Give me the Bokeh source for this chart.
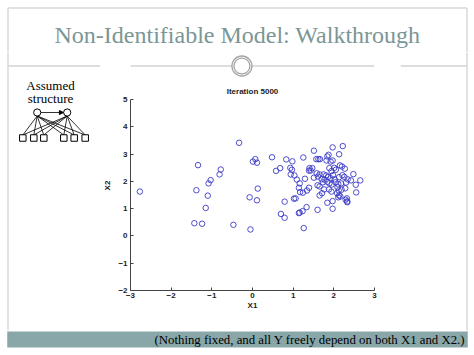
from bokeh.plotting import figure
from bokeh.layouts import column, row
from bokeh.models import Range1d, Label, Arrow, NormalHead
from bokeh.embed import file_html
from bokeh.resources import INLINE
from bokeh.core.properties import value

# ---------------- texts ----------------
slide_title = "Non-Identifiable Model: Walkthrough"
plot_title = "Iteration 5000"
x_label = "X1"
y_label = "X2"
footer_text = "(Nothing fixed, and all Y freely depend on both X1 and X2.)"
structure_label = ["Assumed", "structure"]

# ---------------- ticks ----------------
x_ticks = [-3, -2, -1, 0, 1, 2, 3]
y_ticks = [-2, -1, 0, 1, 2, 3, 4, 5]

# ---------------- data ----------------
x1 = [-2.77, -1.34, -1.38, -1.10, -1.15, -1.08, -1.03, -0.81, -0.78, -0.33,
      -1.43, -1.24, -0.47, -0.05, -0.07, 0.11, 0.13, 0.01, 0.07, 0.11,
      0.48, 0.58, 0.68, 0.83, 0.98, 0.93, 0.97, 0.94, 1.03, 1.09,
      1.14, 0.79, 1.02, 1.06, 0.70, 0.79, 1.14, 1.16, 1.23, 1.33,
      1.26, 1.60, 1.97, 1.84, 1.97, 2.33, 1.25, 1.29, 1.39, 1.34,
      1.16, 1.17, 1.24, 1.51, 1.40, 1.39, 1.43, 1.47, 1.57, 1.62,
      1.66, 1.51, 1.58, 1.61, 1.65, 1.70, 1.75, 1.60, 1.65, 1.73,
      1.77, 1.65, 1.71, 1.84, 1.87, 1.97, 2.22, 2.13, 1.82, 1.92,
      1.97, 1.89, 1.94, 2.01, 2.05, 2.15, 2.20, 2.27, 1.81, 1.86,
      1.92, 1.98, 2.02, 2.13, 2.21, 2.26, 2.34, 1.84, 1.89, 1.95,
      2.04, 2.11, 2.18, 2.30, 2.42, 2.48, 2.65, 1.76, 1.88, 1.94,
      2.09, 2.12, 2.19, 2.28, 2.08, 2.13, 2.16, 2.11, 2.54, 2.55,
      2.32, 2.29, 2.33]
x2 = [1.63, 2.60, 1.68, 1.48, 1.03, 1.93, 2.05, 2.26, 2.44, 3.42,
      0.47, 0.45, 0.41, 0.24, 1.42, 1.31, 1.74, 2.73, 2.82, 2.69,
      2.89, 2.39, 2.49, 2.81, 2.74, 2.50, 2.43, 2.26, 2.22, 2.07,
      1.77, 1.26, 1.37, 1.38, 0.81, 0.67, 0.84, 0.86, 0.91, 1.06,
      0.29, 0.96, 1.00, 1.22, 1.28, 1.24, 2.88, 2.10, 1.77, 1.67,
      1.93, 1.61, 1.59, 3.13, 2.49, 2.40, 2.40, 2.49, 2.82, 2.82,
      2.82, 2.14, 2.30, 2.18, 2.26, 2.08, 2.26, 1.86, 1.82, 1.97,
      2.07, 1.49, 1.57, 2.92, 2.98, 3.25, 3.30, 3.00, 2.77, 2.73,
      2.77, 2.49, 2.38, 2.50, 2.43, 2.59, 2.55, 2.47, 2.22, 2.17,
      2.12, 2.23, 2.08, 2.16, 2.23, 2.17, 2.08, 1.99, 1.93, 1.89,
      1.97, 1.90, 1.93, 1.96, 2.04, 2.27, 2.04, 1.71, 1.71, 1.63,
      1.79, 1.67, 1.70, 1.75, 1.57, 1.49, 1.45, 1.42, 1.88, 1.60,
      1.38, 1.33, 1.27]

# ---------------- styling ----------------
SERIF = value("Liberation Serif")
SANS = "Liberation Sans"
BORDER = "#d9d9d9"
RULE = "#d2d2d2"
TITLE_COLOR = "#7b9696"
FOOTER_FILL = "#89a7a8"
MARK = "#3a3ac6"

L, R, T = 7.5, 466.5, 7.5   # slide frame
RULE_Y = 65.5


def blank(w, h, xr, yr):
    f = figure(width=w, height=h, x_range=Range1d(*xr), y_range=Range1d(*yr),
               output_backend="svg", toolbar_location=None, min_border=0,
               x_axis_type=None, y_axis_type=None)
    f.outline_line_color = None
    f.background_fill_color = "white"
    f.border_fill_color = "white"
    return f


# ---- top band: frame and title ----
top = blank(474, 52, (0, 474), (52, 0))
top.multi_line(xs=[[L, R], [L, L], [R, R]], ys=[[T, T], [T, 52], [T, 52]],
               line_color=BORDER, line_width=1.5)
top.text(x=[237], y=[34.5], text=[slide_title], text_font=SERIF, text_font_size="24px",
         text_color=TITLE_COLOR, text_align="center", text_baseline="middle")

# ---- left panel: assumed structure diagram ----
left = blank(100, 278, (0, 100), (330, 52))
left.line([L, L], [52, 330], line_color=BORDER, line_width=1.5)
left.line([L, 100], [RULE_Y, RULE_Y], line_color=RULE, line_width=1.5)
left.text(x=[50, 50], y=[84.5, 98], text=structure_label, text_font=SERIF,
          text_font_size="13px", text_color="black", text_align="center",
          text_baseline="middle")
lat_x = [36.7, 66.7]
lat_y = 112
obs_x = [22.3, 33.3, 43.3, 63.3, 73.7, 84.7]
obs_y = 137.5
xs, ys = [], []
for lx in lat_x:
    for ox in obs_x:
        xs.append([lx, ox])
        ys.append([lat_y + 3.5, obs_y - 3])
left.multi_line(xs=xs, ys=ys, line_color="black", line_width=0.8)
left.add_layout(Arrow(x_start=lat_x[0] + 3.8, y_start=lat_y, x_end=lat_x[1] - 3.8, y_end=lat_y,
                      line_width=0.8, line_color="black",
                      end=NormalHead(size=4, fill_color="black", line_color="black")))
left.circle(x=lat_x, y=[lat_y] * 2, radius=3.6, fill_color="white", line_color="black", line_width=1)
left.rect(x=obs_x, y=[obs_y] * 6, width=6.5, height=6.5, fill_color="white",
          line_color="black", line_width=1)

# ---- middle strip: rule with double circle ----
strip = blank(300, 28, (100, 400), (80, 52))
strip.line([100, 400], [RULE_Y, RULE_Y], line_color=RULE, line_width=1.5)
strip.circle(x=237, y=RULE_Y, radius=12.3, fill_color="white", line_color="#a5a5a5", line_width=1.3)
strip.circle(x=237, y=RULE_Y, radius=9.8, fill_color=None, line_color="#a5a5a5", line_width=1.3)

# ---- scatter plot ----
sp = figure(width=300, height=250, x_range=Range1d(-3, 3), y_range=Range1d(-2, 5.706),
            output_backend="svg", toolbar_location=None,
            min_border_left=30, min_border_right=26, min_border_top=0, min_border_bottom=40)
sp.outline_line_color = None
sp.xgrid.visible = False
sp.ygrid.visible = False
sp.background_fill_color = "white"
sp.border_fill_color = "white"
sp.scatter(x1, x2, marker="circle", size=5.5, fill_color=None, line_color=MARK, line_width=0.9)
for ax, ticks, bounds, lab in ((sp.xaxis, x_ticks, (-3, 3), x_label),
                               (sp.yaxis, y_ticks, (-2, 5), y_label)):
    ax.ticker = ticks
    ax.bounds = bounds
    ax.axis_label = lab
    ax.axis_line_color = "#444444"
    ax.major_tick_line_color = "#444444"
    ax.major_tick_in = 3
    ax.major_tick_out = 0
    ax.minor_tick_line_color = None
    ax.major_label_text_font = SANS
    ax.major_label_text_font_size = "8px"
    ax.major_label_text_font_style = "bold"
    ax.major_label_text_color = "#222222"
    ax.axis_label_text_font = SANS
    ax.axis_label_text_font_size = "8px"
    ax.axis_label_text_font_style = "bold"
    ax.axis_label_text_color = "#222222"
sp.xaxis.major_label_standoff = 2
sp.xaxis.axis_label_standoff = 0
sp.yaxis.major_label_standoff = 3
sp.yaxis.axis_label_standoff = 3
sp.add_layout(Label(x=0, y=5.30, text=plot_title, text_align="center", text_baseline="middle",
                    text_font=SANS, text_font_size="8px", text_font_style="bold",
                    text_color="#222222"))

# ---- right panel: frame edge ----
right = blank(74, 278, (400, 474), (330, 52))
right.line([R, R], [52, 330], line_color=BORDER, line_width=1.5)
right.line([400, R], [RULE_Y, RULE_Y], line_color=RULE, line_width=1.5)

# ---- footer ----
bottom = blank(474, 25, (0, 474), (355, 330))
bottom.line([L, L], [330, 331], line_color=BORDER, line_width=1.5)
bottom.line([R, R], [330, 331], line_color=BORDER, line_width=1.5)
bottom.quad(left=L - 0.75, right=R + 0.75, top=331, bottom=347, fill_color=FOOTER_FILL,
            line_color=None)
bottom.text(x=[465], y=[339.5], text=[footer_text], text_font=SERIF, text_font_size="12.8px",
            text_color="black", text_align="right", text_baseline="middle")

layout = column(top, row(left, column(strip, sp), right), bottom)
open("out.html", "w").write(file_html(layout, INLINE))
